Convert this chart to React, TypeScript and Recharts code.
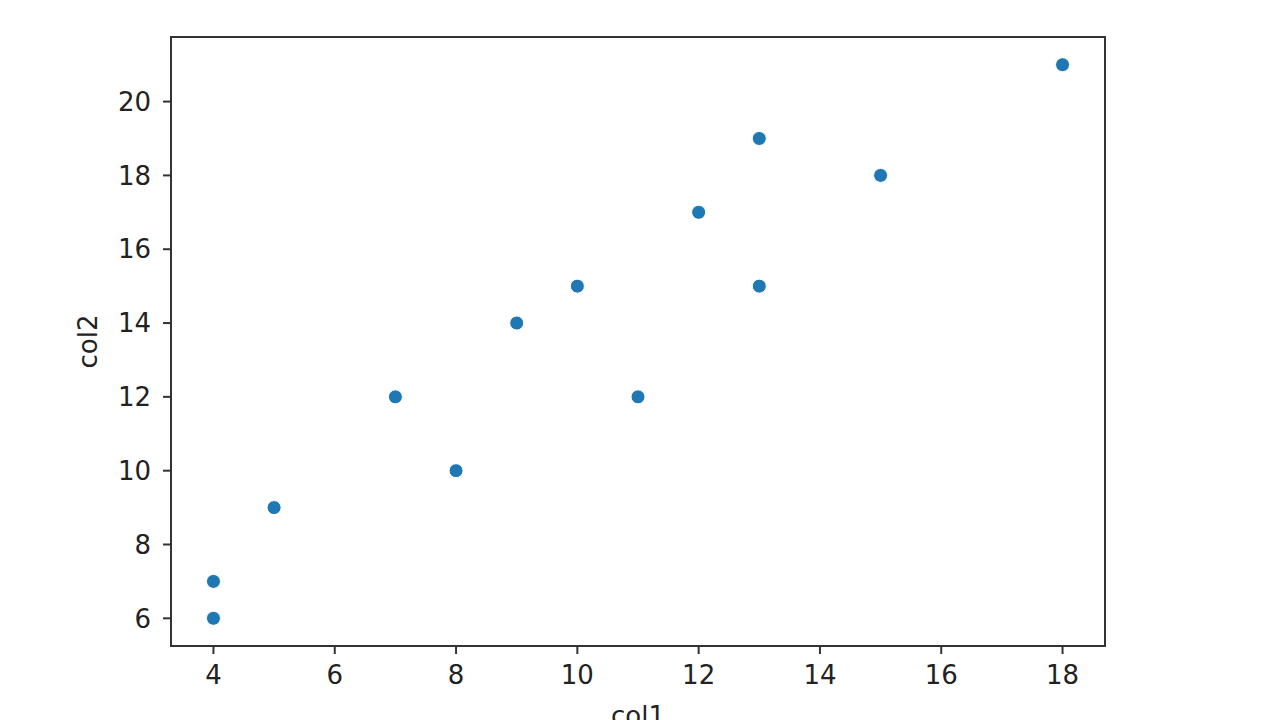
import { ScatterChart, Scatter, XAxis, YAxis, ReferenceArea, Label } from "recharts";

const col1 = [4, 4, 5, 7, 8, 9, 10, 11, 12, 13, 13, 15, 18];
const col2 = [6, 7, 9, 12, 10, 14, 15, 12, 17, 19, 15, 18, 21];
const xTicks = [4, 6, 8, 10, 12, 14, 16, 18];
const yTicks = [6, 8, 10, 12, 14, 16, 18, 20];

const xDomain: [number, number] = [3.3, 18.7];
const yDomain: [number, number] = [5.25, 21.75];

const FONT = "'DejaVu Sans', sans-serif";
const tickStyle = { fill: "#222", fontSize: 26, fontFamily: FONT };
const axisStroke = "#333";

const Dot = (props: any) => (
  <circle cx={props.cx} cy={props.cy} r={7} fill="#1f77b4" stroke="#fff" strokeWidth={1} />
);

export default function App() {
  const data = col1.map((x, i) => ({ col1: x, col2: col2[i] }));

  return (
    <div style={{ width: 1280, height: 720, overflow: "hidden", background: "#fff" }}>
      <style>{`body{margin:0}`}</style>
      <ScatterChart width={1280} height={720} margin={{ top: 37, right: 175, bottom: 0, left: 0 }}>
        <XAxis
          type="number"
          dataKey="col1"
          domain={xDomain}
          ticks={xTicks}
          allowDataOverflow
          height={74}
          tick={tickStyle}
          tickSize={8}
          tickMargin={12}
          stroke={axisStroke}
          strokeWidth={2}
          tickLine={{ stroke: axisStroke, strokeWidth: 2 }}
        >
          <Label
            content={({ viewBox }: any) => (
              <text
                x={viewBox.x + viewBox.width / 2}
                y={viewBox.y + 79}
                textAnchor="middle"
                fill="#222"
                fontSize={26}
                fontFamily={FONT}
              >
                col1
              </text>
            )}
          />
        </XAxis>
        <YAxis
          type="number"
          dataKey="col2"
          domain={yDomain}
          ticks={yTicks}
          allowDataOverflow
          width={171}
          tick={tickStyle}
          tickSize={8}
          tickMargin={12}
          stroke={axisStroke}
          strokeWidth={2}
          tickLine={{ stroke: axisStroke, strokeWidth: 2 }}
        >
          <Label
            content={({ viewBox }: any) => {
              const cx = viewBox.x + 97;
              const cy = viewBox.y + viewBox.height / 2;
              return (
                <text
                  x={cx}
                  y={cy}
                  transform={`rotate(-90, ${cx}, ${cy})`}
                  textAnchor="middle"
                  fill="#222"
                  fontSize={26}
                  fontFamily={FONT}
                >
                  col2
                </text>
              );
            }}
          />
        </YAxis>
        <ReferenceArea
          x1={xDomain[0]}
          x2={xDomain[1]}
          y1={yDomain[0]}
          y2={yDomain[1]}
          fill="none"
          stroke={axisStroke}
          strokeWidth={2}
          ifOverflow="visible"
        />
        <Scatter data={data} shape={Dot} isAnimationActive={false} />
      </ScatterChart>
    </div>
  );
}
